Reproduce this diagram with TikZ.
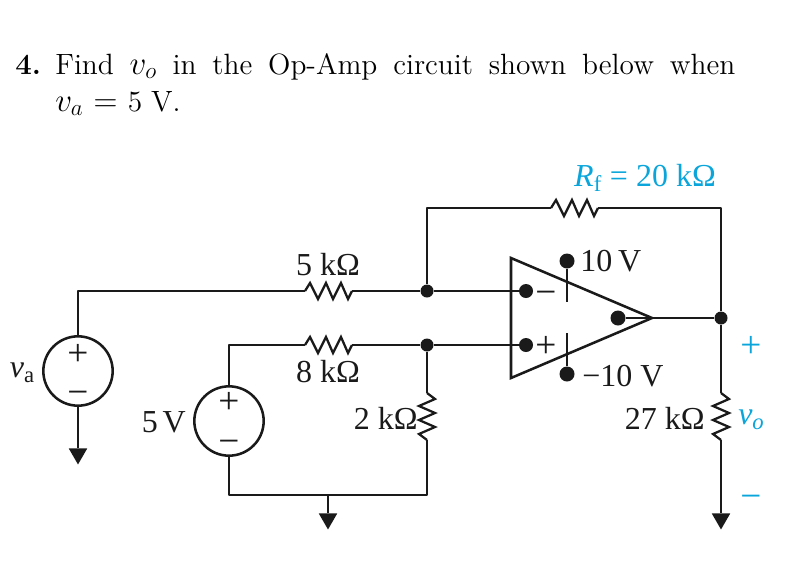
\documentclass[tikz,border=0pt]{standalone}
\usepackage{fontspec}
\usetikzlibrary{shapes.geometric}
\newfontfamily\lab{Liberation Serif}
\newfontfamily\ttl{lmroman12-regular.otf}[BoldFont=lmroman12-bold.otf]
\newcommand{\ttlm}[1]{{\fontsize{26}{26}\selectfont$#1$}}
\definecolor{cy}{HTML}{0AA5DA}
\definecolor{ink}{HTML}{1A1A1A}
\tikzset{
  x=0.75pt,y=-0.75pt,
  wire/.style={draw=ink,line width=1.15pt,line join=round},
  thick shape/.style={draw=ink,line width=1.9pt,line join=miter},
  rstr/.style={draw=ink,line width=1.7pt,line join=miter},
  dot/.style={circle,fill=ink,draw=none,inner sep=0pt,minimum size=#1*0.75pt},
  dot/.default=13,
  src/.style={circle,draw=ink,line width=1.9pt,minimum size=52pt,inner sep=0pt},
  lbl/.style={font=\lab\fontsize{24}{24}\selectfont,text=ink,inner sep=0pt},
  sign/.style={font=\lab\fontsize{28}{28}\selectfont,text=ink,inner sep=0pt,anchor=base},
  blue sign/.style={sign,text=cy},
  blue lbl/.style={lbl,text=cy},
  title/.style={font=\ttl\fontsize{22}{26}\selectfont,text=black,inner sep=0pt,anchor=base west},
  gnd/.style={isosceles triangle,isosceles triangle apex angle=60,shape border rotate=-90,fill=ink,draw=none,inner sep=0pt,minimum size=12pt},
  hres/.style={to path={-- ++(5,-8) -- ++(8,16) -- ++(8,-16) -- ++(7,16) -- ++(8,-16) -- ++(7,16) -- (\tikztotarget)}},
  vres/.style={to path={-- ++(8,6) -- ++(-16,7) -- ++(16,7) -- ++(-16,7) -- ++(16,7) -- ++(-16,7) -- (\tikztotarget)}},
}
\begin{document}
\begin{tikzpicture}
\useasboundingbox (0,0) rectangle (806,568);
% title
\node[title] (t1) at (15,74) {\makebox[30pt][l]{\textbf{4.}}\makebox[510pt][s]{Find \ttlm{v_o} in the Op-Amp circuit shown below when}};
\node[title] (t2) at (55,111) {\ttlm{v_a}\hspace{0.35em}\ttlm{=}\hspace{0.35em}5\hspace{0.3em}V.};
% sources
\node[src] (va) at (78,371) {};
\node[src] (vb) at (229,421) {};
\node[sign] at (78,365) {+};
\node[sign] at (78,404) {−};
\node[sign] at (229,413) {+};
\node[sign] at (229,453) {−};
% coordinates
\coordinate (vaT) at (78,291);
\coordinate (vbT) at (229,345);
\coordinate (vbB) at (229,495);
\coordinate (r5a) at (305,291);
\coordinate (r5b) at (352,291);
\coordinate (r8a) at (305,345);
\coordinate (r8b) at (352,345);
\coordinate (rfa) at (551,208);
\coordinate (rfb) at (598,208);
\coordinate (ftl) at (427,208);
\coordinate (ftr) at (721,208);
\coordinate (r2a) at (427,393);
\coordinate (r2b) at (427,440);
\coordinate (r2e) at (427,495);
\coordinate (r27a) at (721,393);
\coordinate (r27b) at (721,440);
\coordinate (gbus) at (328,495);
\coordinate (apex) at (652,318);
\coordinate (pu) at (567,302);
\coordinate (pd) at (567,333);
% junctions
\node[dot] (j1) at (427,291) {};
\node[dot] (j2) at (427,345) {};
\node[dot=14] (inm) at (526,291) {};
\node[dot=14] (inp) at (526,345) {};
\node[dot=15] (vp) at (567,261) {};
\node[dot=15] (vm) at (567,374) {};
\node[dot=15] (out) at (618,318) {};
\node[dot] (j3) at (721,318) {};
% grounds
\node[gnd,anchor=apex] (g1) at (78,465) {};
\node[gnd,anchor=apex] (g2) at (328,530) {};
\node[gnd,anchor=apex] (g3) at (721,530) {};
% wires
\draw[wire] (va) -- (vaT) -- (r5a);
\draw[rstr] (r5a) to[hres] (r5b);
\draw[wire] (r5b) -- (j1) -- (inm);
\draw[wire] (va) -- (g1);
\draw[wire] (vb) -- (vbT) -- (r8a);
\draw[rstr] (r8a) to[hres] (r8b);
\draw[wire] (r8b) -- (j2) -- (inp);
\draw[wire] (j2) -- (r2a);
\draw[rstr] (r2a) to[vres] (r2b);
\draw[wire] (r2b) -- (r2e) -- (vbB) -- (vb);
\draw[wire] (gbus) -- (g2);
\draw[wire] (j1) -- (ftl) -- (rfa);
\draw[rstr] (rfa) to[hres] (rfb);
\draw[wire] (rfb) -- (ftr) -- (j3);
\draw[wire] (out) -- (apex) -- (j3) -- (r27a);
\draw[rstr] (r27a) to[vres] (r27b);
\draw[wire] (r27b) -- (g3);
\draw[wire] (vp) -- (pu);
\draw[wire] (vm) -- (pd);
% amplifier
\draw[thick shape] (511,258) -- (apex) -- (511,378) -- cycle;
\node[sign] at (546,304) {−};
\node[sign] at (546,357) {+};
% labels
\node[lbl,anchor=west] at (580,261) {10\hspace{0.18em}V};
\node[lbl,anchor=west] at (582,376) {−10\hspace{0.25em}V};
\node[lbl] at (328,265) {5 kΩ};
\node[lbl] at (328,372) {8 kΩ};
\node[lbl,anchor=east] at (418,418) {2 kΩ};
\node[lbl,anchor=east] at (705,418) {27 kΩ};
\node[lbl,anchor=east] at (186,422) {5\hspace{0.15em}V};
\node[lbl,anchor=east] at (35,373) {\textit{v}\textsubscript{\fontsize{17}{17}\selectfont a}};
\node[blue lbl] at (645,178) {\textit{R}\textsubscript{\fontsize{17}{17}\selectfont f} = 20 kΩ};
\node[blue sign] at (751,357) {+};
\node[blue sign] at (751,508) {−};
\node[blue lbl,anchor=west] at (738,420) {\textit{v}\textsubscript{\fontsize{17}{17}\selectfont\textit{o}}};
\end{tikzpicture}
\end{document}
